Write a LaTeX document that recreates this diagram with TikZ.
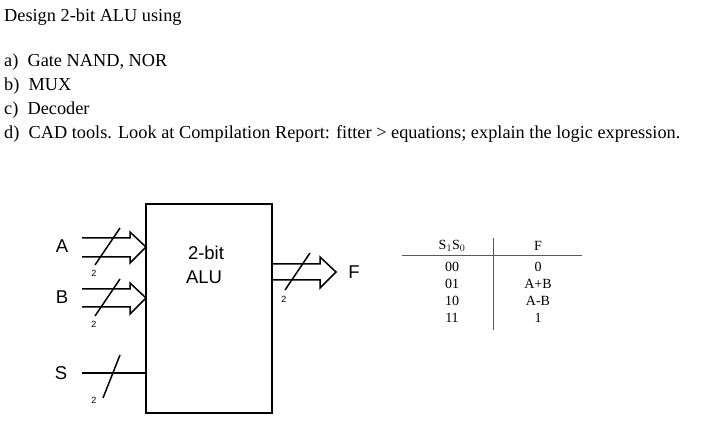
\documentclass[tikz,border=0pt]{standalone}
\usepackage{fontspec}
\setmainfont{Liberation Serif}
\newfontfamily\arialf{Liberation Sans}
\begin{document}
\begin{tikzpicture}[x=1pt,y=-1pt,
  txt/.style={anchor=west,inner sep=0pt,font=\fontsize{18.3}{20}\selectfont},
  sans/.style={inner sep=0pt,font=\arialf\fontsize{18.5}{20}\selectfont},
  small/.style={inner sep=0pt,font=\arialf\fontsize{9}{10}\selectfont},
  tab/.style={inner sep=0pt,font=\fontsize{14}{16}\selectfont},
  wire/.style={line width=1.5pt},
  bus/.style={line width=1.5pt,line join=miter}]
\useasboundingbox (0,0) rectangle (718,435);
\node[txt] (t0) at (4,17) {Design 2-bit ALU using};
\node[txt] (ta) at (4,62) {a)\ \ Gate NAND, NOR};
\node[txt] (tb) at (4,86) {b)\ \ MUX};
\node[txt] (tc) at (4,110) {c)\ \ Decoder};
\node[txt] (td) at (4,134) {d)\ \ CAD tools. Look at Compilation Report: fitter > equations; explain the logic expression.};
% ALU box
\node[draw,line width=1.8pt,minimum width=126pt,minimum height=209pt,inner sep=0pt] (alu) at (209,308.5) {};
\node[sans] (l1) at (206,253) {2-bit};
\node[sans] (l2) at (204,277) {ALU};
% A bus
\coordinate (aA) at (146,247);
\draw[bus] (82,238) -- (130,238) -- (130,232) -- (aA) -- (130,263) -- (130,257) -- (82,257);
\draw[wire] (95,265) -- (120,228);
\node[sans] (A) at (62,246) {A};
\node[small] (a2) at (94,273) {2};
% B bus
\coordinate (aB) at (146,298);
\draw[bus] (82,289) -- (130,289) -- (130,283) -- (aB) -- (130,314) -- (130,307) -- (82,307);
\draw[wire] (95,316) -- (120,279);
\node[sans] (B) at (62,297) {B};
\node[small] (b2) at (94,324) {2};
% S
\node[sans] (S) at (61,373) {S};
\coordinate (sS) at (82,373);
\draw[wire] (sS) -- (alu.west |- sS);
\draw[wire] (103,398) -- (120,355);
\node[small] (s2) at (94,400) {2};
% F bus
\coordinate (fF) at (336,272);
\draw[bus] (273,264) -- (320,264) -- (320,257) -- (fF) -- (320,288) -- (320,280) -- (273,280);
\draw[wire] (285,290) -- (310,253);
\node[small] (f2) at (284,299) {2};
\node[sans] (F) at (354,272) {F};
% table
\draw[line width=0.7pt,gray!70!black] (402,255) -- (582,255);
\draw[line width=0.7pt,gray!70!black] (493,238) -- (493,330);
\node[tab] (h1) at (452,246) {S$_1$S$_0$};
\node[tab] (h2) at (538,246) {F};
\node[tab] (r1) at (452,267) {00};
\node[tab] (r2) at (452,284) {01};
\node[tab] (r3) at (452,301) {10};
\node[tab] (r4) at (452,318) {11};
\node[tab] (f1) at (538,267) {0};
\node[tab] (f2x) at (538,284) {A+B};
\node[tab] (f3) at (538,301) {A-B};
\node[tab] (f4) at (538,318) {1};
\end{tikzpicture}
\end{document}
